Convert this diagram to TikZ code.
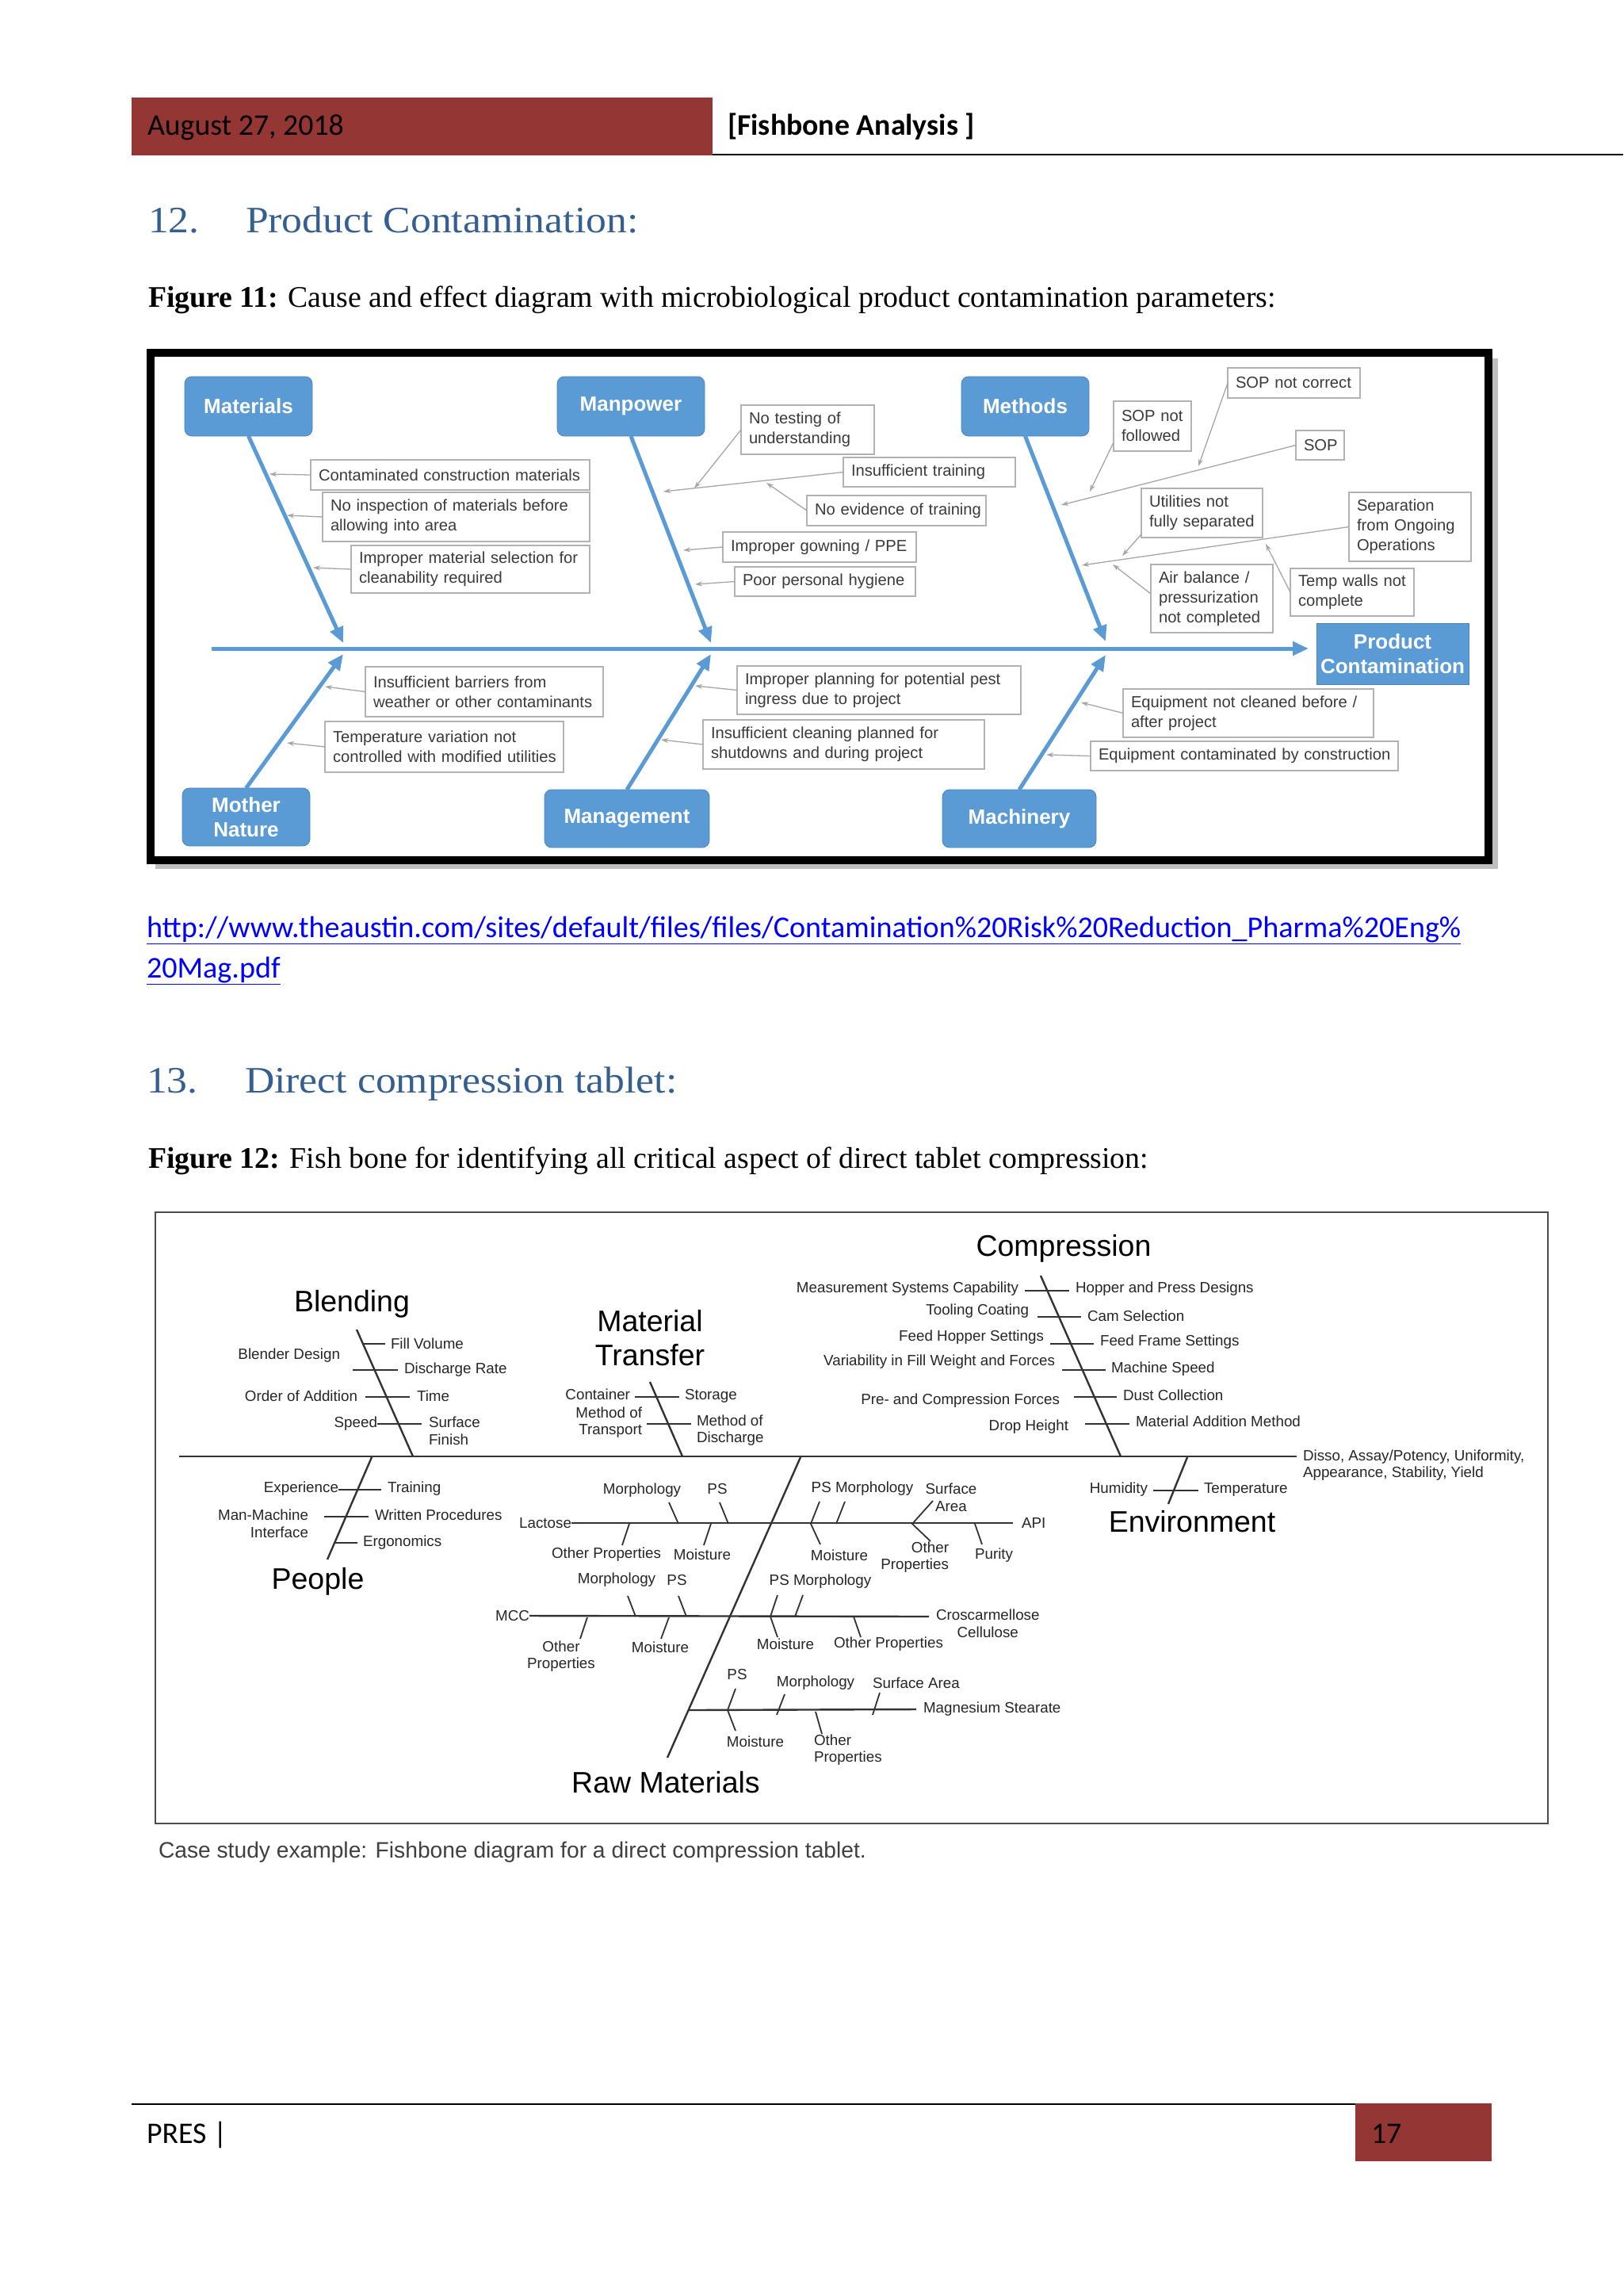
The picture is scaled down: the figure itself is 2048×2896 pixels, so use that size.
\documentclass[tikz,border=0pt]{standalone}
\usepackage{fontspec}
\setmainfont{Liberation Serif}
\setsansfont{Liberation Sans}
\newfontfamily\calfont{Carlito}
\newfontfamily\headfont{Liberation Serif}[FakeStretch=1.1]
\usetikzlibrary{arrows.meta,calc}
\definecolor{hdrred}{HTML}{943634}
\definecolor{headblue}{HTML}{365F91}
\definecolor{fbblue}{HTML}{5B9BD5}
\definecolor{txtgray}{HTML}{3A3A3A}
\definecolor{linkblue}{HTML}{0000FF}
\newcommand{\cbx}[6]{%
  \pgfmathsetmacro{\cbw}{#4-#2-20}%
  \pgfmathsetmacro{\cbh}{#5-#3}%
  \node[cbox,text width=\cbw pt,minimum height=\cbh pt] (#1) at ({(#2+#4)/2},{(#3+#5)/2}) {#6};}
\newcommand{\kbx}[6]{%
  \pgfmathsetmacro{\cbw}{#4-#2}%
  \pgfmathsetmacro{\cbh}{#5-#3}%
  \node[catbox,minimum width=\cbw pt,minimum height=\cbh pt] (#1) at ({(#2+#4)/2},{(#3+#5)/2}) {#6};}
\begin{document}
\begin{tikzpicture}[x=1pt,y=-1pt,
  every node/.style={inner sep=0pt,outer sep=0pt},
  cbox/.style={draw=black!30, fill=white, line width=1.3pt, font={\sffamily\fontsize{20.2}{25}\selectfont}, text=txtgray, align=left, inner xsep=10pt, execute at begin node={\hyphenpenalty=10000\exhyphenpenalty=10000\hbadness=10000\hfuzz=50pt}},
  catbox/.style={fill=fbblue, draw=fbblue!85!black, line width=0.8pt, rounded corners=9pt, font={\sffamily\bfseries\fontsize{26}{31}\selectfont}, text=white, align=center},
  bone/.style={draw=fbblue, line width=5pt, -{Triangle[length=20pt,width=17pt]}},
  twig/.style={draw=black!35, line width=1.3pt, -{Stealth[length=9pt,width=6pt]}},
  fb/.style={draw=black!80, line width=2.4pt},
  tk/.style={draw=black!80, line width=1.8pt},
  sl/.style={font={\sffamily\fontsize{18.8}{21.5}\selectfont}, text=black!85},
  bl/.style={font={\sffamily\fontsize{37.5}{43}\selectfont}, text=black},
  body/.style={font={\fontsize{37.8}{45}\selectfont}, anchor=base west},
  hd/.style={font={\headfont\fontsize{47}{56}\selectfont}, text=headblue, anchor=base west},
  cal/.style={font={\calfont\fontsize{37.8}{45}\selectfont}, anchor=base west},
]
\fill[white] (0,0) rectangle (2048,2896);
\useasboundingbox (0,0) rectangle (2048,2896);

% ---------- header ----------
\fill[hdrred] (166,123) rectangle (899,196);
\draw[line width=2.5pt] (899,195) -- (2048,195);
\node[cal] (date) at (186,170) {August 27, 2018};
\node[cal, font={\calfont\bfseries\fontsize{37.8}{45}\selectfont}] (title) at (918,170) {[Fishbone Analysis ]};

% ---------- section 12 ----------
\node[hd] (h12n) at (187,293) {12.};
\node[hd] (h12) at (310,293) {Product Contamination:};
\node[body] (cap11) at (187,387) {\textbf{Figure 11:} Cause and effect diagram with microbiological product contamination parameters:};

% ---------- figure 11 ----------
\fill[black!25] (196,452) rectangle (1890,1096);
\draw[line width=10pt, fill=white] (190,445) rectangle (1878,1085);

\kbx{mat}{233}{475}{394}{550}{Materials}
\kbx{man}{703}{475}{889}{550}{Manpower}
\kbx{met}{1213}{475}{1374}{550}{Methods}
\kbx{mot}{230}{994}{391}{1067}{Mother\\Nature}
\kbx{mgt}{687}{996}{895}{1069}{Management}
\kbx{mac}{1189}{996}{1383}{1069}{Machinery}
\node[catbox, rounded corners=0pt, minimum width=192pt, minimum height=77pt] (pc) at (1757,824.5) {Product\\Contamination};

\coordinate (sL) at (267,818);
\coordinate (sR) at (1651,818);
\draw[bone] (sL) -- (sR);
\coordinate (bM) at (433,811);
\coordinate (bN) at (897,811);
\coordinate (bT) at (1395,809);
\coordinate (bO) at (433,825);
\coordinate (bG) at (897,825);
\coordinate (bC) at (1395,826);
\draw[bone] (mat.south) -- (bM);
\draw[bone] (man.south) -- (bN);
\draw[bone] (met.south) -- (bT);
\draw[bone] (mot.north) -- (bO);
\draw[bone] (mgt.north) -- (bG);
\draw[bone] (mac.north) -- (bC);

\cbx{cc}{392}{580}{744}{618}{Contaminated~construction~materials}
\cbx{ni}{407}{621}{744}{683}{No~inspection~of~materials~before\\allowing~into~area}
\cbx{im}{443}{688}{744}{748}{Improper~material~selection~for\\cleanability~required}
\cbx{ib}{461}{841}{761}{904}{Insufficient~barriers~from\\weather~or~other~contaminants}
\cbx{tv}{410}{910}{711}{974}{Temperature~variation~not\\controlled~with~modified~utilities}
\cbx{nt}{935}{511}{1103}{573}{No~testing~of\\understanding}
\cbx{it}{1064}{577}{1281}{614}{Insufficient~training}
\cbx{ne}{1018}{625}{1244}{663}{No~evidence~of~training}
\cbx{ig}{912}{671}{1156}{709}{Improper~gowning~/~PPE}
\cbx{ph}{927}{715}{1155}{752}{Poor~personal~hygiene}
\cbx{ip}{930}{840}{1288}{901}{Improper~planning~for~potential~pest\\ingress~due~to~project}
\cbx{ic}{887}{908}{1242}{970}{Insufficient~cleaning~planned~for\\shutdowns~and~during~project}
\cbx{snc}{1549}{464}{1716}{502}{SOP~not~correct}
\cbx{snf}{1405}{506}{1503}{569}{SOP~not\\followed}
\cbx{sop}{1635}{543}{1696}{580}{SOP}
\cbx{ut}{1440}{616}{1593}{678}{Utilities~not\\fully~separated}
\cbx{sep}{1702}{621}{1856}{708}{Separation\\from~Ongoing\\Operations}
\cbx{ab}{1452}{712}{1606}{798}{Air~balance~/\\pressurization\\not~completed}
\cbx{tw}{1628}{717}{1784}{777}{Temp~walls~not\\complete}
\cbx{enc}{1417}{869}{1733}{930}{Equipment~not~cleaned~before~/\\after~project}
\cbx{ecc}{1376}{935}{1764}{972}{Equipment~contaminated~by~construction}

\coordinate (eCC) at (340,598);
\coordinate (eNI) at (362,650);
\coordinate (eIM) at (395,716);
\coordinate (eIB) at (410,866);
\coordinate (eTV) at (362,937);
\coordinate (eIT) at (837,620);
\coordinate (eNT) at (876,616);
\coordinate (eNE) at (967,609);
\coordinate (eIG) at (862,694);
\coordinate (ePH) at (877,737);
\coordinate (eIP) at (877,865);
\coordinate (eIC) at (834,933);
\coordinate (eSOP) at (1339,637);
\coordinate (eSNC) at (1512,588);
\coordinate (eSNF) at (1375,620);
\coordinate (eSEP) at (1365,713);
\coordinate (eUT) at (1416,701);
\coordinate (eAB) at (1404,712);
\coordinate (eTW) at (1597,686);
\coordinate (eENC) at (1364,886);
\coordinate (eECC) at (1320,952);
\draw[twig] (cc.west) -- (eCC);
\draw[twig] (ni.west) -- (eNI);
\draw[twig] (im.west) -- (eIM);
\draw[twig] (ib.west) -- (eIB);
\draw[twig] (tv.west) -- (eTV);
\draw[twig] (it.west) -- (eIT);
\draw[twig] (nt.west) -- (eNT);
\draw[twig] (ne.west) -- (eNE);
\draw[twig] (ig.west) -- (eIG);
\draw[twig] (ph.west) -- (ePH);
\draw[twig] (ip.west) -- (eIP);
\draw[twig] (ic.west) -- (eIC);
\draw[twig] (sop.west) -- (eSOP);
\draw[twig] (snc.west) -- (eSNC);
\draw[twig] ($(snf.south west)+(0,-11)$) -- (eSNF);
\draw[twig] (sep.west) -- (eSEP);
\draw[twig] ($(ut.south west)+(0,-4)$) -- (eUT);
\draw[twig] ($(ab.west)+(0,-6)$) -- (eAB);
\draw[twig] (tw.west) -- (eTW);
\draw[twig] (enc.west) -- (eENC);
\draw[twig] (ecc.west) -- (eECC);

% ---------- link ----------
\node[cal, text=linkblue, font={\calfont\fontsize{38.1}{45}\selectfont}] (url1) at (185,1182) {\underline{http://www.theaustin.com/sites/default/files/files/Contamination\%20Risk\%20Reduction\_Pharma\%20Eng\%}};
\node[cal, text=linkblue, font={\calfont\fontsize{38.1}{45}\selectfont}] (url2) at (185,1233) {\underline{20Mag.pdf}};

% ---------- section 13 ----------
\node[hd] (h13n) at (185,1378) {13.};
\node[hd] (h13) at (309,1378) {Direct compression tablet:};
\node[body] (cap12) at (187,1473) {\textbf{Figure 12:} Fish bone for identifying all critical aspect of direct tablet compression:};

% ---------- figure 12 ----------
\draw[line width=2.2pt, draw=black!70] (196,1529) rectangle (1953,2300);
\coordinate (spL) at (226,1837);
\coordinate (spR) at (1636,1837);
\draw[fb] (spL) -- (spR);
\node[sl, anchor=west, align=left] (res) at (1644,1848) {Disso, Assay/Potency, Uniformity,\\Appearance, Stability, Yield};

% Blending
\node[bl] (blend) at (444,1645) {Blending};
\draw[fb] (450,1677) -- (521,1837);
\draw[tk] (458,1695) -- (486,1695);
\draw[tk] (445,1728) -- (502,1728);
\draw[tk] (461,1762) -- (517,1762);
\draw[tk] (476,1796) -- (532,1796);
\node[sl, anchor=west] (b1) at (493,1695) {Fill Volume};
\node[sl, anchor=east] (b2) at (429,1710) {Blender Design};
\node[sl, anchor=west] (b3) at (510,1728) {Discharge Rate};
\node[sl, anchor=east] (b4) at (451,1761) {Order of Addition};
\node[sl, anchor=west] (b5) at (526,1761) {Time};
\node[sl, anchor=east] (b6) at (476,1796) {Speed};
\node[sl, anchor=west, align=left] (b7) at (541,1805) {Surface\\Finish};

% Material transfer
\node[bl, align=center] (mtr) at (820,1688) {Material\\Transfer};
\draw[fb] (820,1743) -- (861,1837);
\draw[tk] (801,1762) -- (857,1762);
\draw[tk] (816,1796) -- (872,1796);
\node[sl, anchor=east] (m1) at (795,1759) {Container};
\node[sl, anchor=west] (m2) at (864,1761) {Storage};
\node[sl, anchor=east, align=right] (m3) at (810,1794) {Method of\\Transport};
\node[sl, anchor=west, align=left] (m4) at (879,1804) {Method of\\Discharge};

% Compression
\node[bl] (comp) at (1342,1575) {Compression};
\draw[fb] (1313,1609) -- (1414,1837);
\draw[tk] (1293,1628) -- (1349,1628);
\draw[tk] (1309,1661) -- (1364,1661);
\draw[tk] (1325,1695) -- (1380,1695);
\draw[tk] (1340,1728) -- (1395,1728);
\draw[tk] (1355,1762) -- (1409,1762);
\draw[tk] (1369,1796) -- (1425,1796);
\node[sl, anchor=east] (c1) at (1285,1626) {Measurement Systems Capability};
\node[sl, anchor=west] (c2) at (1357,1626) {Hopper and Press Designs};
\node[sl, anchor=east] (c3) at (1298,1654) {Tooling Coating};
\node[sl, anchor=west] (c4) at (1372,1660) {Cam Selection};
\node[sl, anchor=east] (c5) at (1317,1687) {Feed Hopper Settings};
\node[sl, anchor=west] (c6) at (1388,1693) {Feed Frame Settings};
\node[sl, anchor=east] (c7) at (1331,1718) {Variability in Fill Weight and Forces};
\node[sl, anchor=west] (c8) at (1402,1727) {Machine Speed};
\node[sl, anchor=east] (c9) at (1337,1767) {Pre- and Compression Forces};
\node[sl, anchor=west] (c10) at (1417,1760) {Dust Collection};
\node[sl, anchor=east] (c11) at (1348,1800) {Drop Height};
\node[sl, anchor=west] (c12) at (1433,1793) {Material Addition Method};

% People
\node[bl] (people) at (401,1995) {People};
\draw[fb] (469,1838) -- (413,1967);
\draw[tk] (427,1879) -- (481,1879);
\draw[tk] (409,1913) -- (465,1913);
\draw[tk] (421,1946) -- (451,1946);
\node[sl, anchor=east] (p1) at (427,1878) {Experience};
\node[sl, anchor=west] (p2) at (489,1878) {Training};
\node[sl, anchor=east, align=right] (p3) at (389,1922) {Man-Machine\\Interface};
\node[sl, anchor=west] (p4) at (473,1911) {Written Procedures};
\node[sl, anchor=west] (p5) at (458,1946) {Ergonomics};

% Environment
\node[bl] (env) at (1504,1919) {Environment};
\draw[fb] (1498,1838) -- (1474,1897);
\draw[tk] (1455,1880) -- (1512,1880);
\node[sl, anchor=east] (e1) at (1448,1879) {Humidity};
\node[sl, anchor=west] (e2) at (1519,1879) {Temperature};

% Raw materials
\node[bl] (raw) at (840,2248) {Raw Materials};
\draw[fb] (1010,1838) -- (842,2217);

% Lactose
\node[sl, anchor=east] (lac) at (721,1921) {Lactose};
\node[sl, anchor=west] (api) at (1289,1921) {API};
\draw[fb] (lac.east) -- ([xshift=-11pt]api.west);
\draw[tk] (844,1895) -- (856,1922);
\draw[tk] (908,1895) -- (919,1922);
\draw[tk] (794,1922) -- (785,1949);
\draw[tk] (897,1922) -- (888,1949);
\draw[tk] (1034,1894) -- (1023,1922) -- (1035,1948);
\draw[tk] (1066,1894) -- (1055,1922);
\draw[tk] (1177,1893) -- (1151,1922) -- (1174,1944);
\draw[tk] (1230,1922) -- (1239,1948);
\node[sl] (l1) at (810,1880) {Morphology};
\node[sl] (l2) at (905,1878) {PS};
\node[sl] (l3) at (765,1961) {Other Properties};
\node[sl] (l4) at (886,1961) {Moisture};
\node[sl] (l5) at (1088,1878) {PS Morphology};
\node[sl] (l6) at (1059,1962) {Moisture};
\node[sl, align=center] (l7) at (1200,1889) {Surface\\Area};
\node[sl, anchor=east, align=right] (l8) at (1197,1964) {Other\\Properties};
\node[sl, anchor=west] (l9) at (1230,1962) {Purity};

% MCC
\node[sl, anchor=east] (mcc) at (668,2038) {MCC};
\node[sl, anchor=west, align=center] (cro) at (1181,2048) {Croscarmellose\\Cellulose};
\coordinate (croL) at (1172,2039);
\draw[fb] (mcc.east) -- (croL);
\draw[tk] (792,2013) -- (802,2039);
\draw[tk] (856,2013) -- (866,2039);
\draw[tk] (741,2040) -- (732,2067);
\draw[tk] (844,2040) -- (834,2067);
\draw[tk] (981,2012) -- (972,2039) -- (981,2065);
\draw[tk] (1013,2012) -- (1003,2039);
\draw[tk] (1077,2039) -- (1086,2065);
\node[sl] (k1) at (778,1993) {Morphology};
\node[sl] (k2) at (854,1993) {PS};
\node[sl, align=center] (k3) at (708,2089) {Other\\Properties};
\node[sl] (k4) at (833,2078) {Moisture};
\node[sl] (k5) at (1035,1995) {PS Morphology};
\node[sl] (k6) at (991,2074) {Moisture};
\node[sl] (k7) at (1121,2074) {Other Properties};

% Magnesium stearate
\coordinate (mgL) at (869,2157);
\node[sl, anchor=west] (mgs) at (1165,2156) {Magnesium Stearate};
\draw[fb] (mgL) -- ([xshift=-9pt]mgs.west);
\draw[tk] (928,2130) -- (918,2157) -- (928,2183);
\draw[tk] (990,2137) -- (980,2163);
\draw[tk] (1110,2135) -- (1101,2163);
\draw[tk] (1029,2159) -- (1037,2187);
\node[sl] (g1) at (930,2112) {PS};
\node[sl] (g2) at (953,2197) {Moisture};
\node[sl] (g3) at (1029,2123) {Morphology};
\node[sl] (g4) at (1156,2123) {Surface Area};
\node[sl, anchor=west, align=left] (g5) at (1027,2207) {Other\\Properties};

% caption
\node[anchor=base west, font={\sffamily\fontsize{28.2}{33}\selectfont}, text=black!75] (cs) at (200,2343) {Case study example: Fishbone diagram for a direct compression tablet.};

% ---------- footer ----------
\draw[line width=2.5pt] (166,2654) -- (1710,2654);
\fill[hdrred] (1710,2653) rectangle (1882,2726);
\node[cal] (pres) at (185,2703) {PRES |};
\node[cal] (pg) at (1730,2703) {17};
\end{tikzpicture}
\end{document}
